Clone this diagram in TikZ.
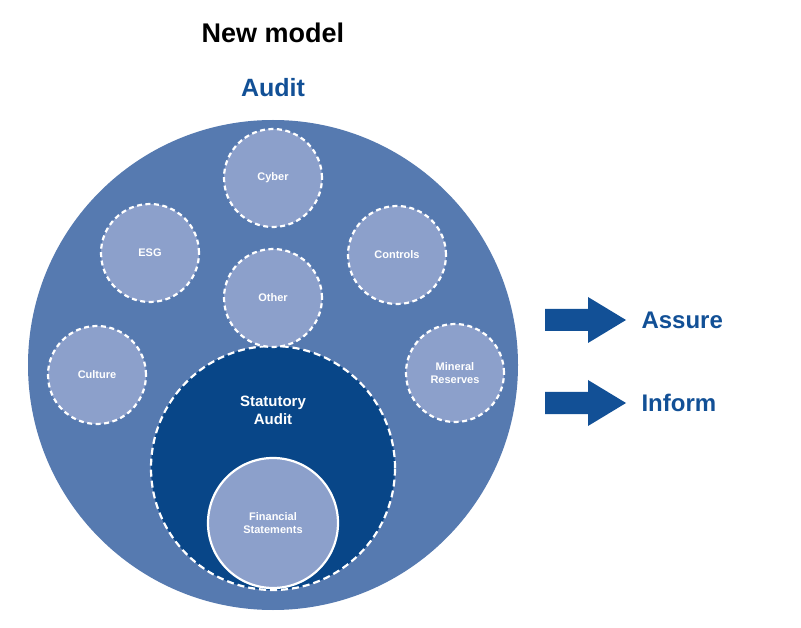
\documentclass[tikz,border=0pt]{standalone}
\usepackage{fontspec}
\setmainfont{Liberation Sans}
\usetikzlibrary{arrows.meta}
\definecolor{bigc}{RGB}{86,122,176}
\definecolor{smallc}{RGB}{140,160,203}
\definecolor{darkc}{RGB}{8,70,136}
\definecolor{txtb}{RGB}{18,80,150}
\tikzset{
 small/.style={circle,draw=white,dashed,line width=2.2pt,dash pattern=on 5pt off 3.5pt,fill=smallc,minimum size=98pt,text=white,font=\bfseries\fontsize{11}{13}\selectfont,align=center,inner sep=0pt},
 bigarrow/.style={fill=txtb,draw=none}
}
\begin{document}
\begin{tikzpicture}[x=1pt,y=-1pt]
\useasboundingbox (0,0) rectangle (801,628);
\node[font=\bfseries\fontsize{27}{30}\selectfont] (title) at (273,33) {New model};
\node[font=\bfseries\fontsize{25}{28}\selectfont,text=txtb] (audit) at (273,88) {Audit};
\node[circle,fill=bigc,minimum size=490pt,inner sep=0pt] (big) at (273,365) {};
\node[circle,fill=darkc,draw=white,dashed,line width=2.2pt,dash pattern=on 7pt off 4pt,minimum size=244pt,inner sep=0pt] (stat) at (273,468) {};
\node[text=white,font=\bfseries\fontsize{15}{18}\selectfont,align=center] (statl) at (273,410) {Statutory\\Audit};
\node[circle,fill=smallc,draw=white,line width=2.2pt,minimum size=130pt,inner sep=0pt,text=white,font=\bfseries\fontsize{11}{13}\selectfont,align=center] (fin) at (273,523) {Financial\\Statements};
\node[small] (cyber) at (273,178) {Cyber};
\node[small] (esg) at (150,253) {ESG};
\node[small] (ctrl) at (397,255) {Controls};
\node[small] (other) at (273,298) {Other};
\node[small] (cult) at (97,375) {Culture};
\node[small] (min) at (455,373) {Mineral\\Reserves};
\foreach \y/\t/\n in {320/Assure/as,403/Inform/inf}{
 \fill[bigarrow] (545,\y-11) -- (588,\y-11) -- (588,\y-23) -- (626,\y) -- (588,\y+23) -- (588,\y+11) -- (545,\y+11) -- cycle;
 \node[anchor=west,text=txtb,font=\bfseries\fontsize{24}{28}\selectfont] (\n) at (638,\y) {\t};
}
\end{tikzpicture}
\end{document}
